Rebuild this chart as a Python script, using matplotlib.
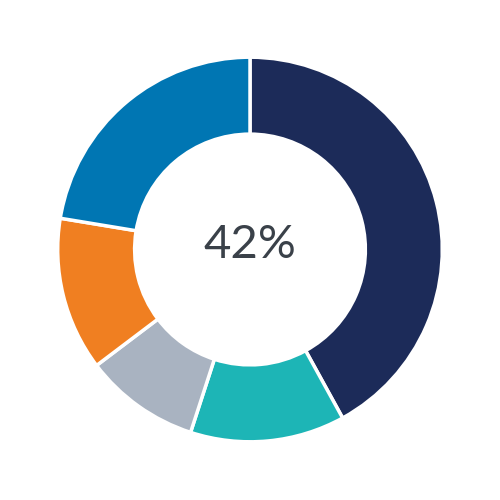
import matplotlib
matplotlib.use("Agg")
import matplotlib.pyplot as plt

# slice shares (%), clockwise from 12 o'clock
labels = ["Navy", "Teal", "Gray", "Orange", "Blue"]
shares = [42, 13, 9.7, 12.9, 22.4]
colors = ["#1c2b59", "#1db5b6", "#a9b3c1", "#f07f21", "#0076b3"]
center_label = "42%"

fig = plt.figure(figsize=(5, 5), dpi=100)
ax = fig.add_axes([0, 0, 1, 1])

ax.pie(
    shares,
    colors=colors,
    startangle=90,
    counterclock=False,
    radius=1.0,
    wedgeprops=dict(width=0.40, edgecolor="white", linewidth=2.5),
)

ax.text(0, 0.021, center_label, ha="center", va="center",
        fontsize=34, fontfamily=["Lato", "DejaVu Sans"], fontweight="normal",
        color="#3a4149")

# outer radius ~192 px, centre at (250, 249.5) px
r_px = 192.3
ax.set_xlim(-250 / r_px, 250 / r_px)
ax.set_ylim(-250.5 / r_px, 249.5 / r_px)
ax.set_aspect("equal")
ax.axis("off")

fig.savefig("out.png", dpi=100, facecolor="white")
